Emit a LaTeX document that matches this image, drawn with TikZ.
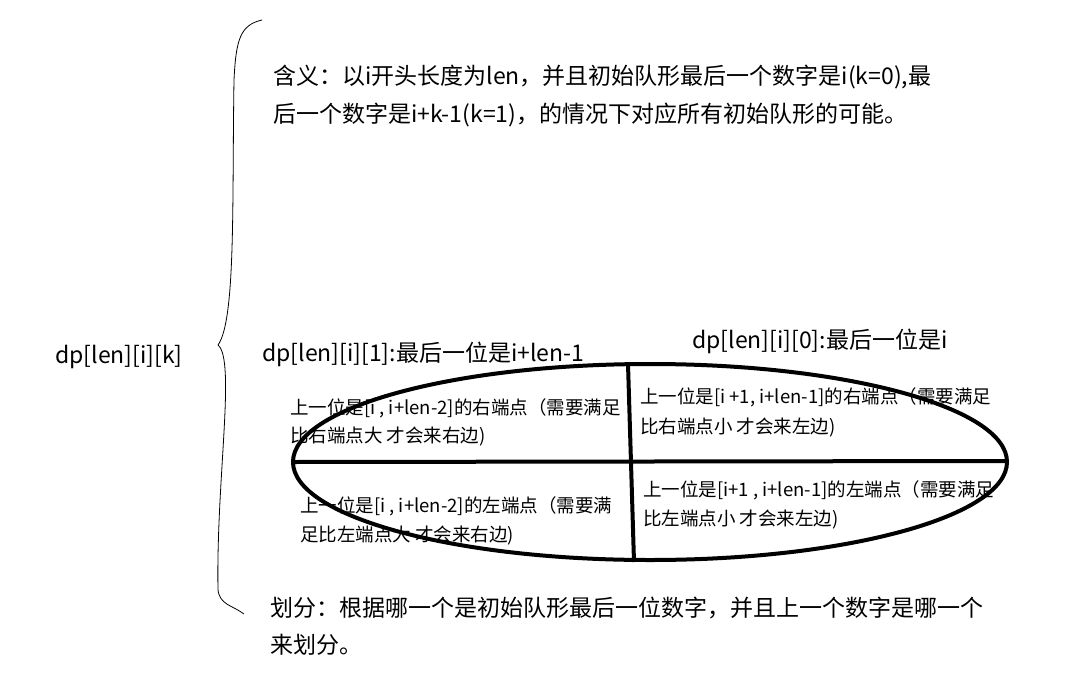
\documentclass[tikz,border=0pt]{standalone}
\usepackage{fontspec}
\setmainfont{Noto Sans CJK SC}
\begin{document}
\begin{tikzpicture}[x=1pt,y=-1pt,
  big/.style={anchor=west,inner sep=0,font=\fontsize{23}{23}\selectfont},
  cell/.style={anchor=west,inner sep=0,font=\fontsize{18.5}{18.5}\selectfont},
  thick line/.style={line width=4pt}]
\useasboundingbox (0,0) rectangle (1078,685);
\node[big] (t1) at (273,77) {含义：以i开头长度为len，并且初始队形最后一个数字是i(k=0),最};
\node[big] (t2) at (273,115) {后一个数字是i+k-1(k=1)，的情况下对应所有初始队形的可能。};
\node[big] (dp) at (55,357) {dp[len][i][k]};
\node[big] (l1) at (262,354) {dp[len][i][1]:最后一位是i+len-1};
\node[big] (l0) at (692,341) {dp[len][i][0]:最后一位是i};
\node[cell] (c1) at (290,408) {上一位是[i , i+len-2]的右端点（需要满足};
\node[cell] (c1b) at (290,437) {比右端点大 才会来右边)};
\node[cell] (c2) at (640,397) {上一位是[i +1, i+len-1]的右端点（需要满足};
\node[cell] (c2b) at (640,428) {比右端点小 才会来左边)};
\node[cell] (c3) at (300,506) {上一位是[i , i+len-2]的左端点（需要满};
\node[cell] (c3b) at (300,536) {足比左端点大 才会来右边)};
\node[cell] (c4) at (643,490) {上一位是[i+1 , i+len-1]的左端点（需要满足};
\node[cell] (c4b) at (643,520) {比左端点小 才会来左边)};
\node[big] (b1) at (270,608) {划分：根据哪一个是初始队形最后一位数字，并且上一个数字是哪一个};
\node[big] (b2) at (270,645) {来划分。};
\draw[thick line] (650,462) ellipse [x radius=357, y radius=98];
\draw[thick line] (293,462) -- (1007,461);
\draw[thick line] (628,364) -- (634,562);
\draw[line width=0.8pt] (262,20) .. controls (240,25) and (236,40) .. (234,80)
  .. controls (232,200) and (236,320) .. (218,345)
  .. controls (236,360) and (216,480) .. (218,590)
  .. controls (220,605) and (232,605) .. (244,614);
\end{tikzpicture}
\end{document}
